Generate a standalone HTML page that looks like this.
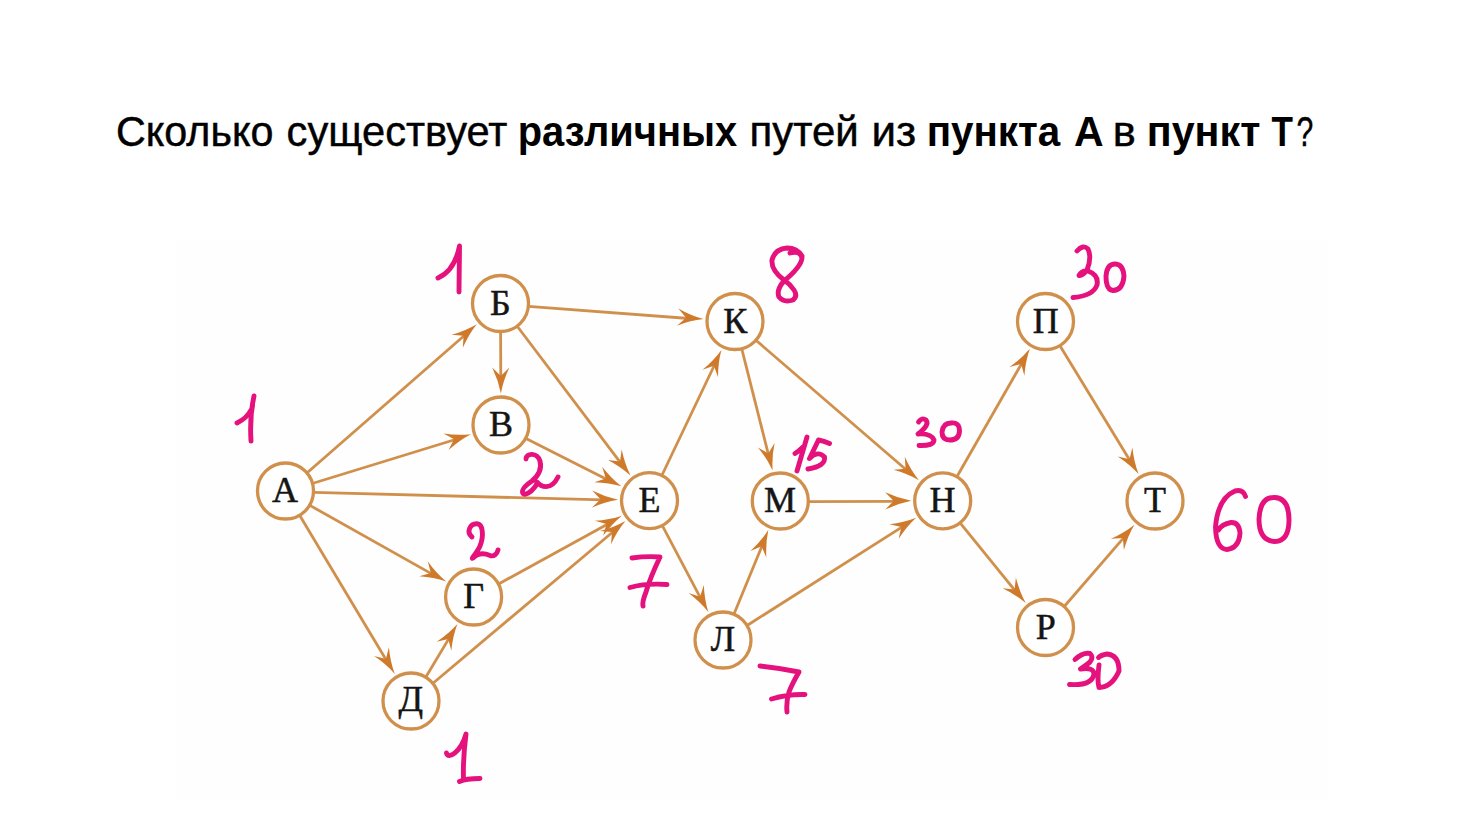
<!DOCTYPE html>
<html><head><meta charset="utf-8"><style>
html,body{margin:0;padding:0;background:#fff;width:1470px;height:827px;overflow:hidden}
svg{display:block}
</style></head><body>
<svg width="1470" height="827" viewBox="0 0 1470 827">
<rect x="0" y="0" width="1470" height="827" fill="#ffffff"/>
<rect x="176" y="240" width="1152" height="560" fill="#fefefe"/>
<g font-family="Liberation Sans" font-size="42" fill="#000">
<text transform="translate(115.99,146) scale(0.9826,1)" font-weight="400" stroke="#000" stroke-width="0.45">Сколько</text>
<text transform="translate(286.57,146) scale(0.9916,1)" font-weight="400" stroke="#000" stroke-width="0.45">существует</text>
<text transform="translate(517.68,146) scale(0.9489,1)" font-weight="700">различных</text>
<text transform="translate(749.43,146) scale(1.0004,1)" font-weight="400" stroke="#000" stroke-width="0.45">путей</text>
<text transform="translate(871.48,146) scale(1.0474,1)" font-weight="400" stroke="#000" stroke-width="0.45">из</text>
<text transform="translate(926.65,146) scale(0.9600,1)" font-weight="700">пункта</text>
<text transform="translate(1074.00,146) scale(0.9762,1)" font-weight="700">А</text>
<text transform="translate(1112.82,146) scale(1.0336,1)" font-weight="400" stroke="#000" stroke-width="0.45">в</text>
<text transform="translate(1146.78,146) scale(0.9816,1)" font-weight="700">пункт</text>
<text transform="translate(1271.60,146) scale(0.8356,1)" font-weight="700">Т</text>
<text transform="translate(1296.53,146) scale(0.7193,1)" font-weight="400" stroke="#000" stroke-width="0.45">?</text>
</g>
<g stroke="#d0904c" stroke-width="2.8" fill="none">
<line x1="306.6" y1="473.3" x2="465.8" y2="334.2"/>
<line x1="312.3" y1="483.5" x2="457.0" y2="439.0"/>
<line x1="313.5" y1="492.4" x2="603.5" y2="499.9"/>
<line x1="309.9" y1="505.4" x2="433.5" y2="574.9"/>
<line x1="299.9" y1="515.7" x2="387.4" y2="662.0"/>
<line x1="528.4" y1="306.3" x2="689.1" y2="318.5"/>
<line x1="500.6" y1="332.2" x2="500.8" y2="379.5"/>
<line x1="517.4" y1="326.5" x2="621.8" y2="464.4"/>
<line x1="526.0" y1="438.4" x2="608.5" y2="480.2"/>
<line x1="498.2" y1="584.2" x2="609.2" y2="523.2"/>
<line x1="425.4" y1="677.7" x2="449.9" y2="636.9"/>
<line x1="432.4" y1="683.7" x2="614.3" y2="530.7"/>
<line x1="661.6" y1="476.0" x2="715.2" y2="363.5"/>
<line x1="662.6" y1="526.1" x2="701.5" y2="599.8"/>
<line x1="741.9" y1="349.3" x2="769.0" y2="456.9"/>
<line x1="756.2" y1="340.5" x2="907.9" y2="471.2"/>
<line x1="808.3" y1="501.7" x2="896.7" y2="501.4"/>
<line x1="733.7" y1="614.8" x2="762.8" y2="544.0"/>
<line x1="746.7" y1="625.7" x2="903.8" y2="525.9"/>
<line x1="956.6" y1="477.2" x2="1022.6" y2="361.9"/>
<line x1="960.3" y1="523.2" x2="1016.5" y2="592.3"/>
<line x1="1060.1" y1="346.1" x2="1131.0" y2="462.2"/>
<line x1="1063.8" y1="607.0" x2="1124.9" y2="536.3"/>
</g>
<g fill="#cf7a2a" stroke="none">
<path d="M476.8,324.2 Q468.5,334.6 462.8,347.8 L463.6,335.7 L451.5,334.8 Q465.4,330.9 476.8,324.2Z"/>
<path d="M470.9,434.2 Q459.2,440.3 448.5,450.1 L454.1,439.3 L443.5,433.6 Q457.7,435.7 470.9,434.2Z"/>
<path d="M618.0,499.8 Q605.0,501.8 591.8,507.7 L600.5,499.3 L592.2,490.5 Q605.1,497.0 618.0,499.8Z"/>
<path d="M446.2,581.5 Q433.6,577.3 419.3,576.3 L430.9,572.9 L427.7,561.3 Q436.0,573.1 446.2,581.5Z"/>
<path d="M394.8,674.0 Q386.1,664.0 374.1,656.1 L385.9,658.9 L388.9,647.2 Q390.2,661.6 394.8,674.0Z"/>
<path d="M703.6,319.1 Q690.4,320.5 677.0,325.7 L686.1,317.7 L678.3,308.5 Q690.8,315.7 703.6,319.1Z"/>
<path d="M500.9,393.5 Q498.4,380.5 492.2,367.5 L500.8,376.0 L509.4,367.5 Q503.2,380.5 500.9,393.5Z"/>
<path d="M630.5,475.5 Q620.7,466.6 608.0,459.9 L620.0,461.5 L621.7,449.5 Q624.6,463.6 630.5,475.5Z"/>
<path d="M621.4,486.3 Q608.8,482.6 594.4,482.2 L605.8,478.4 L602.2,466.8 Q610.9,478.3 621.4,486.3Z"/>
<path d="M621.9,515.7 Q611.6,524.1 603.2,535.8 L606.5,524.1 L594.9,520.7 Q609.3,519.9 621.9,515.7Z"/>
<path d="M457.4,624.0 Q452.7,636.4 451.3,650.7 L448.3,639.0 L436.6,641.8 Q448.6,633.9 457.4,624.0Z"/>
<path d="M625.4,520.9 Q617.0,531.1 611.0,544.2 L612.0,532.1 L599.9,531.0 Q613.9,527.4 625.4,520.9Z"/>
<path d="M721.4,349.9 Q718.0,362.7 718.0,377.1 L713.9,365.7 L702.5,369.7 Q713.7,360.6 721.4,349.9Z"/>
<path d="M708.3,612.1 Q700.1,601.8 688.6,593.1 L700.1,596.7 L703.8,585.1 Q704.4,599.5 708.3,612.1Z"/>
<path d="M772.6,470.5 Q767.1,458.4 757.9,447.4 L768.3,453.5 L774.6,443.1 Q771.7,457.3 772.6,470.5Z"/>
<path d="M918.9,480.2 Q907.4,473.5 893.6,469.7 L905.6,468.8 L904.8,456.7 Q910.6,469.9 918.9,480.2Z"/>
<path d="M911.2,500.8 Q898.2,503.3 885.2,509.5 L893.7,500.9 L885.2,492.3 Q898.2,498.4 911.2,500.8Z"/>
<path d="M768.3,530.1 Q765.6,543.1 766.3,557.4 L761.6,546.3 L750.4,550.9 Q761.1,541.2 768.3,530.1Z"/>
<path d="M916.1,517.7 Q906.4,526.7 898.7,538.8 L901.3,527.0 L889.5,524.3 Q903.8,522.6 916.1,517.7Z"/>
<path d="M1029.8,348.8 Q1025.5,361.3 1024.4,375.7 L1021.1,364.0 L1009.4,367.1 Q1021.3,358.9 1029.8,348.8Z"/>
<path d="M1025.7,603.0 Q1015.6,594.5 1002.6,588.3 L1014.6,589.4 L1015.9,577.4 Q1019.3,591.4 1025.7,603.0Z"/>
<path d="M1138.6,474.1 Q1129.8,464.3 1117.7,456.4 L1129.5,459.2 L1132.4,447.4 Q1133.9,461.8 1138.6,474.1Z"/>
<path d="M1134.4,524.8 Q1127.7,536.2 1123.9,550.1 L1122.9,538.0 L1110.9,538.8 Q1124.1,533.1 1134.4,524.8Z"/>
</g>
<g stroke="#d0904c" stroke-width="3.3" fill="#fff">
<circle cx="285.5" cy="491" r="28.0"/>
<circle cx="500.5" cy="303.5" r="28.0"/>
<circle cx="501" cy="425" r="28.0"/>
<circle cx="473.6" cy="597" r="28.0"/>
<circle cx="411" cy="701" r="28.0"/>
<circle cx="649.5" cy="500.6" r="28.0"/>
<circle cx="735" cy="321.5" r="28.0"/>
<circle cx="780.3" cy="501" r="28.0"/>
<circle cx="723" cy="640" r="28.0"/>
<circle cx="942.7" cy="500.8" r="28.0"/>
<circle cx="1045.5" cy="321.5" r="28.0"/>
<circle cx="1155" cy="501" r="28.0"/>
<circle cx="1045.5" cy="627.5" r="28.0"/>
</g>
<g font-family="Liberation Serif" font-size="36" fill="#151515" stroke="#151515" stroke-width="0.5" text-anchor="middle">
<text x="285.1" y="502.3">А</text>
<text x="500.3" y="315.1">Б</text>
<text x="501.0" y="435.5">В</text>
<text x="473.7" y="607.8">Г</text>
<text x="410.8" y="711.3">Д</text>
<text x="649.6" y="512.2">Е</text>
<text x="735.3" y="333.4">К</text>
<text x="780.0" y="511.6">М</text>
<text x="723.0" y="651.1">Л</text>
<text x="942.4" y="511.7">Н</text>
<text x="1045.8" y="333.4">П</text>
<text x="1155.1" y="511.6">Т</text>
<text x="1045.7" y="639.1">Р</text>
</g>
<g stroke="#e5127e" stroke-width="4.9" fill="none" stroke-linecap="round" stroke-linejoin="round">
<path d="M438,278 C447,274 456,264 459.5,246 L459,292"/>
<path d="M254,396 C251,410 250,425 251,441 M237,423 C243,420 248,416 251,410"/>
<path d="M526,459 C526,453 537,452 540,461 C542,469 538,476 532,481 C526,485 521,490 523,493.5 C525,496 531,492 534,488 C536,486 537,483 537,482 C541,487 551,491 558,477"/>
<path d="M472,537 C466,532 470,523.5 477,523.8 C483,524 484,536 480,546 C477,553 470,560 473,558 C478,553 484,553 490,555.5 C494,557 497,554 498,550"/>
<path d="M446.5,753 C448,760 461,752 466,734 C464,750 463,765 463.5,779 M459.5,781.5 C466,778.5 474,778.5 480,778.5"/>
<path d="M632,558 Q646,556 660,557 Q650,578 646,592 Q642,602 643,606 M630,587.5 Q646,583 667,584.5"/>
<path d="M760,666 Q780,668 799,672 Q792,684 789,692 Q786,702 787,712 M771.5,699 Q788,694 805,694.5"/>
<path d="M790,253 Q800,250 802,258 Q801,267 784,281 Q776,290 779,297 Q784,303 793,300 Q798,296 794,290 Q790,284 784,280 Q771,270 772,260 Q775,249 787,248 Q797,248 802,256"/>
<path d="M807,437 L797,471 M795,453.5 Q799,451 803,447 M818.5,440 Q824,441 829.5,443.5 M818.5,440 L809.5,458.5 Q818,450 824.5,457 Q826,466 808,469"/>
<path d="M918.5,422 Q922,417 926,420 Q930,425 918,434 Q931,433 934,440 Q934,446 919,445.5 M951,423 Q959.5,422 959.5,431 Q959,440 950,440 Q942,440 942,432 Q943,423 951,423"/>
<path d="M1077,251 Q1083,244 1088,249 Q1092,258 1087,270 Q1083,276 1079,275.5 Q1082,270 1088,271 Q1099,275 1097,285 Q1093,296 1073,297.5 M1115,264 Q1123,264 1124,276 Q1123,290 1113,290.5 Q1106,290 1106,276 Q1107,264 1115,264"/>
<path d="M1075,659.5 Q1083,652 1090,653.5 Q1094,657 1090,662 Q1084,667 1080.5,669 Q1094,667 1094,674 Q1092,686 1069.5,684.5 M1099,665 Q1097,681 1099,687.5 Q1112,687 1119,671 Q1119,655 1107,654 Q1101,655 1098.5,657.5"/>
<path d="M1245.5,496.5 Q1243,489 1235,491 Q1218,498 1215.5,527 Q1216,549 1227,549.5 Q1239,548 1240,533 Q1239,522 1231,522.5 Q1222,524 1218.5,530 M1274.5,497.5 Q1289,498 1289,520 Q1289,541 1275,541.5 Q1259,541 1259,519 Q1260,497 1274.5,497.5"/>
</g>
</svg>
</body></html>
